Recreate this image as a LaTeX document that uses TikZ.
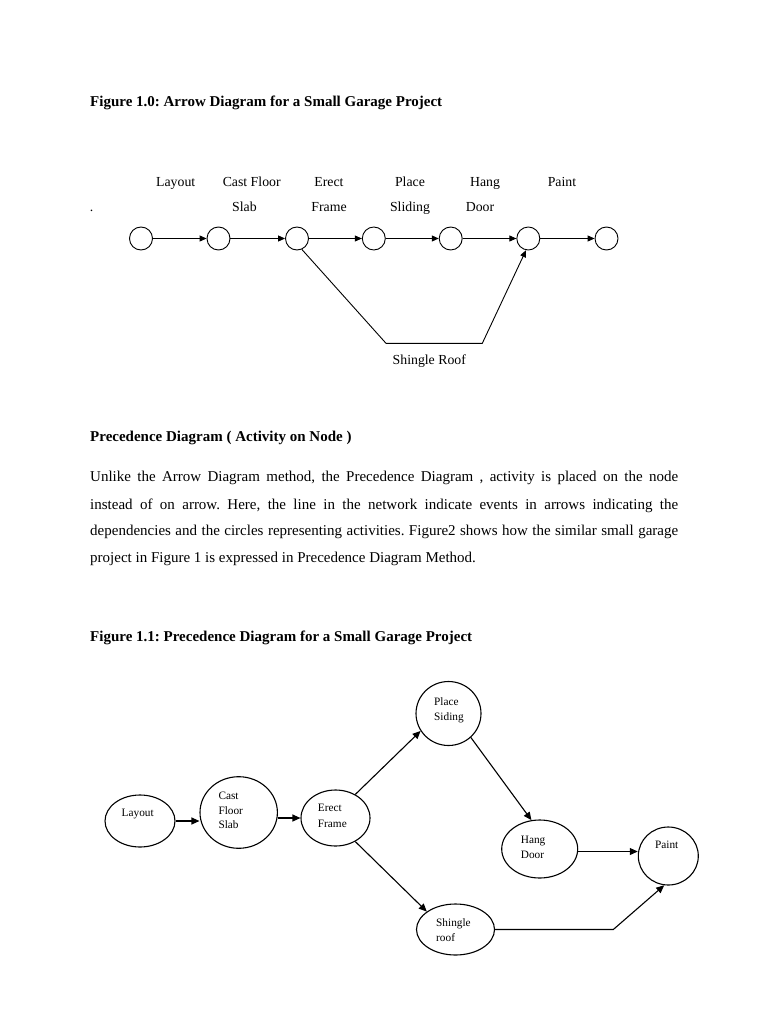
\documentclass[tikz,border=0pt]{standalone}
\usepackage{fontspec}
\setmainfont{Liberation Serif}
\usetikzlibrary{arrows.meta,shapes.geometric}
\frenchspacing
\tikzset{
  ev/.style={circle, draw, line width=0.9pt, minimum size=23pt, inner sep=0pt},
  toparr/.style={line width=0.9pt, -{Triangle[length=7pt,width=6pt]}},
  act/.style={ellipse, draw, line width=1.1pt, inner sep=0pt},
  botarr/.style={line width=1.1pt, -{Triangle[length=8pt,width=7pt]}},
  toplbl/.style={font=\fontsize{13.8}{16}\selectfont, anchor=base, inner sep=0pt},
  actlbl/.style={font=\fontsize{11.3}{14}\selectfont, anchor=base west, inner sep=0pt},
  actlblc/.style={font=\fontsize{11.3}{14}\selectfont, anchor=base, inner sep=0pt},
  body/.style={font=\fontsize{15}{18}\selectfont, anchor=base west, inner sep=0pt},
  head/.style={font=\fontsize{15}{18}\selectfont\bfseries, anchor=base west, inner sep=0pt},
}
\begin{document}
\begin{tikzpicture}[x=1pt,y=-1pt]
\useasboundingbox (0,0) rectangle (768,1024);
\fill[white] (0,0) rectangle (768,1024);

% ---------- Figure 1.0 ----------
\node[head] (t1) at (90,106.5) {Figure 1.0: Arrow Diagram for a Small Garage Project};

\node[toplbl] (l1) at (175.7,186.5) {Layout};
\node[toplbl] (l2a) at (251.7,186.5) {Cast Floor};
\node[toplbl] (l2b) at (244.5,211.5) {Slab};
\node[toplbl] (l3a) at (329,186.5) {Erect};
\node[toplbl] (l3b) at (329,211.5) {Frame};
\node[toplbl] (l4a) at (410,186.5) {Place};
\node[toplbl] (l4b) at (410,211.5) {Sliding};
\node[toplbl] (l5a) at (485,186.5) {Hang};
\node[toplbl] (l5b) at (480,211.5) {Door};
\node[toplbl] (l6) at (562,186.5) {Paint};
\node[toplbl] (dot) at (91.5,211.5) {.};

\node[ev] (c1) at (141,238.5) {};
\node[ev] (c2) at (218.5,238.5) {};
\node[ev] (c3) at (297,238.5) {};
\node[ev] (c4) at (373.8,238.5) {};
\node[ev] (c5) at (450.7,238.5) {};
\node[ev] (c6) at (528.3,238.5) {};
\node[ev] (c7) at (606.5,238.5) {};

\draw[toparr] (c1) -- (c2);
\draw[toparr] (c2) -- (c3);
\draw[toparr] (c3) -- (c4);
\draw[toparr] (c4) -- (c5);
\draw[toparr] (c5) -- (c6);
\draw[toparr] (c6) -- (c7);

\coordinate (r1) at (386,343.3);
\coordinate (r2) at (482.3,343.3);
\draw[toparr, line join=miter] (c3.-66) -- (r1) -- (r2) -- (c6.-101);
\node[toplbl] (sr) at (429.3,364.5) {Shingle Roof};

% ---------- Text ----------
\node[head] (h2) at (90,441.5) {Precedence Diagram ( Activity on Node )};
\node[body] (p1) at (90,481.5) {\makebox[588pt][s]{Unlike the Arrow Diagram method, the Precedence Diagram , activity is placed on the node}};
\node[body] (p2) at (90,509) {\makebox[588pt][s]{instead of on arrow. Here, the line in the network indicate events in arrows indicating the}};
\node[body] (p3) at (90,535.5) {\makebox[588pt][s]{dependencies and the circles representing activities. Figure2 shows how the similar small garage}};
\node[body] (p4) at (90,562.5) {project in Figure 1 is expressed in Precedence Diagram Method.};

% ---------- Figure 1.1 ----------
\node[head] (t2) at (90,641.5) {Figure 1.1: Precedence Diagram for a Small Garage Project};

\node[act, minimum width=70pt, minimum height=52pt] (layout) at (140,821) {};
\node[act, minimum width=77.4pt, minimum height=71.6pt] (cast) at (238.7,812.5) {};
\node[act, minimum width=69pt, minimum height=56pt] (erect) at (335.5,818) {};
\node[act, minimum width=65pt, minimum height=64pt] (place) at (448.5,713.5) {};
\node[act, minimum width=76pt, minimum height=58pt] (hang) at (539.7,849) {};
\node[act, minimum width=60pt, minimum height=58pt] (paint) at (668.3,856) {};
\node[act, minimum width=78pt, minimum height=51pt] (shingle) at (455.5,929.5) {};

\node[actlblc] (layoutT) at (137.7,816.8) {Layout};
\node[actlbl] (castT1) at (218.3,799.5) {Cast};
\node[actlbl] (castT2) at (218.3,814) {Floor};
\node[actlbl] (castT3) at (218.3,828.5) {Slab};
\node[actlbl] (erectT1) at (317.7,811.8) {Erect};
\node[actlbl] (erectT2) at (317.7,827.5) {Frame};
\node[actlbl] (placeT1) at (434,705.2) {Place};
\node[actlbl] (placeT2) at (434,720.8) {Siding};
\node[actlbl] (hangT1) at (520.7,843.5) {Hang};
\node[actlbl] (hangT2) at (520.7,858.5) {Door};
\node[actlblc] (paintT) at (666.7,848.5) {Paint};
\node[actlbl] (shingleT1) at (436,926.2) {Shingle};
\node[actlbl] (shingleT2) at (436,941.2) {roof};

\draw[botarr] (layout.east) -- (layout.east -| cast.west);
\draw[botarr] (cast.east |- erect.west) -- (erect.west);
\draw[botarr] (erect.50) -- (place.212);
\draw[botarr] (erect.-50) -- (shingle.148);
\draw[botarr] (place.-47) -- (hang.106);
\draw[botarr] ([yshift=-2.5pt]hang.east) -- ([yshift=-2.5pt]hang.east -| paint.west);
\coordinate (sbend) at (613.3,929.5);
\draw[botarr] (shingle.east) -- (sbend) -- (paint.262);
\end{tikzpicture}
\end{document}
